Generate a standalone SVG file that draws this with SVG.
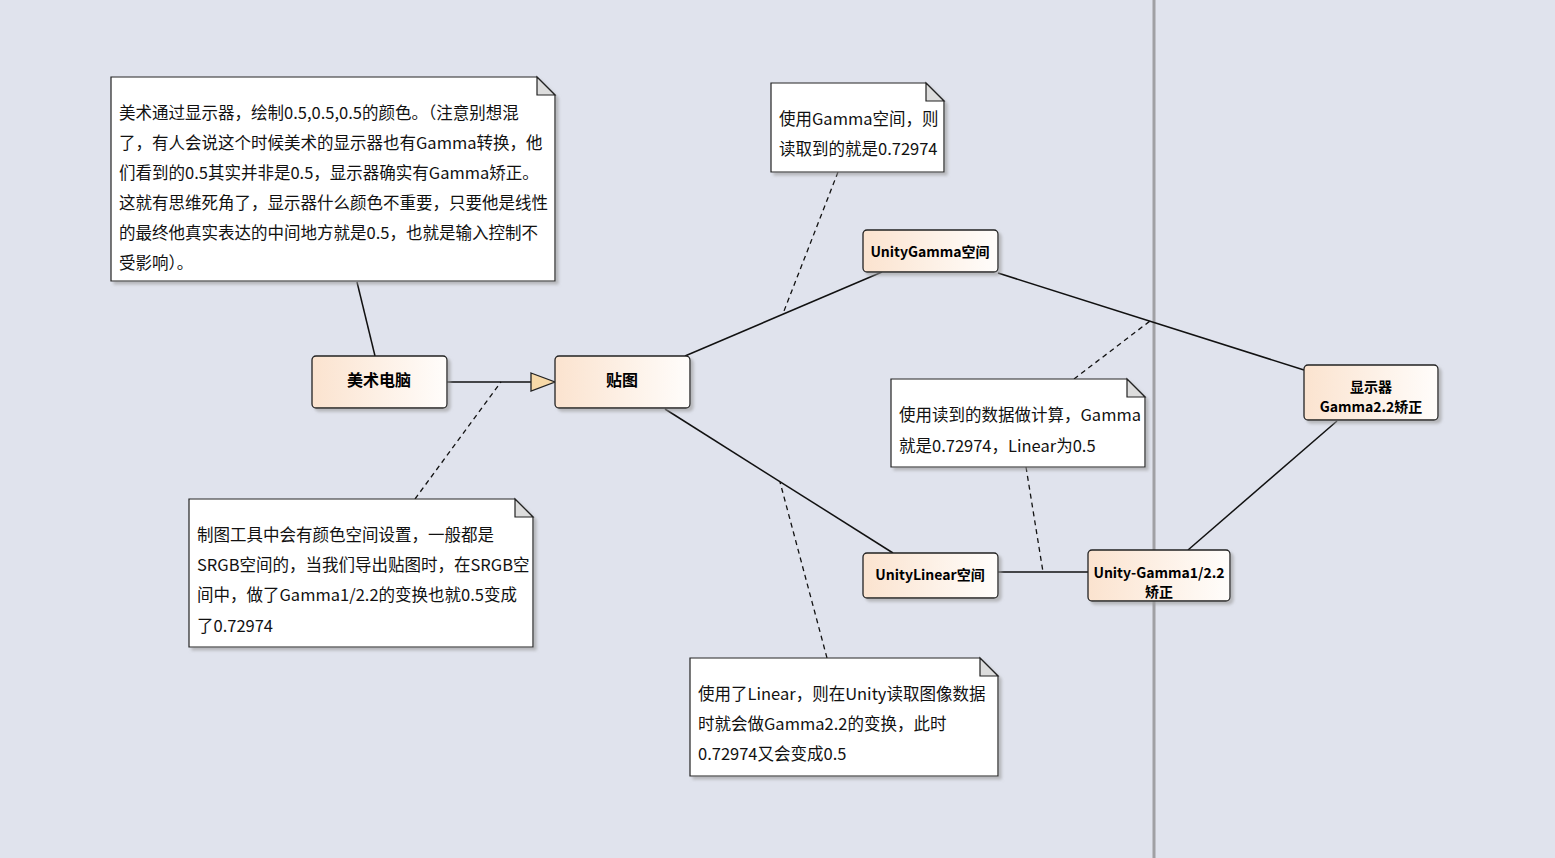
<svg xmlns="http://www.w3.org/2000/svg" width="1555" height="858" viewBox="0 0 1555 858">
<defs>
<linearGradient id="g" x1="0" y1="0" x2="1" y2="0"><stop offset="0" stop-color="#fbe3cf"/><stop offset="1" stop-color="#fffdfb"/></linearGradient>
<filter id="sh" x="-10%" y="-10%" width="130%" height="140%"><feDropShadow dx="3" dy="3" stdDeviation="1.5" flood-color="#999" flood-opacity="0.6"/></filter>
</defs>
<style>
.n{fill:url(#g);stroke:#222;stroke-width:1.3;filter:url(#sh)}
.nt{font-family:"Noto Sans CJK SC","Liberation Sans",sans-serif;font-size:16px;font-weight:bold;text-anchor:middle;fill:#000}
.s{font-size:14px}
.note{fill:#fff;stroke:#222;stroke-width:1.2;filter:url(#sh)}
.fold{fill:#ddd;stroke:#222;stroke-width:1.2}
.tx{font-family:"Noto Sans CJK SC","Liberation Sans",sans-serif;font-size:16.5px;fill:#111}
.l{stroke:#111;stroke-width:1.5;fill:none}
.d{stroke:#111;stroke-width:1.3;fill:none;stroke-dasharray:5,4}
</style>
<rect width="1555" height="858" fill="#e0e3ed"/>
<line x1="1154" y1="0" x2="1154" y2="858" stroke="#a0a0a4" stroke-width="3"/>
<g id="connectors">
<line class="l" x1="357" y1="282" x2="375" y2="356"/>
<line class="l" x1="447" y1="382" x2="531" y2="382"/>
<polygon points="531,373 555,382 531,391" fill="#f7d9a8" stroke="#222" stroke-width="1.3"/>
<line class="l" x1="685" y1="356" x2="882" y2="272"/>
<line class="l" x1="665" y1="409" x2="893" y2="553"/>
<line class="l" x1="998" y1="273" x2="1304" y2="370"/>
<line class="l" x1="998" y1="572" x2="1088" y2="572"/>
<line class="l" x1="1337" y1="421" x2="1188" y2="550"/>
<line class="d" x1="838" y1="172" x2="784" y2="311"/>
<line class="d" x1="415" y1="499" x2="501" y2="382"/>
<line class="d" x1="1074" y1="379" x2="1150" y2="321"/>
<line class="d" x1="1026" y1="467" x2="1043" y2="572"/>
<line class="d" x1="827" y1="658" x2="780" y2="482"/>
</g>
<g id="meishu"><rect class="n" x="312" y="356" width="135" height="52" rx="4"/><text class="nt" x="379" y="386">美术电脑</text></g>
<g id="tietu"><rect class="n" x="555" y="356" width="135" height="52" rx="4"/><text class="nt" x="622" y="386">贴图</text></g>
<g id="unitygamma"><rect class="n" x="863" y="230" width="135" height="42" rx="4"/><text class="nt s" x="930" y="257">UnityGamma空间</text></g>
<g id="xianshiqi"><rect class="n" x="1304" y="365" width="134" height="55" rx="4"/><text class="nt s" x="1371" y="392">显示器</text><text class="nt s" x="1371" y="412">Gamma2.2矫正</text></g>
<g id="unitylinear"><rect class="n" x="863" y="553" width="135" height="45" rx="4"/><text class="nt s" x="930" y="580">UnityLinear空间</text></g>
<g id="unitygammacorr"><rect class="n" x="1088" y="550" width="142" height="51" rx="4"/><text class="nt s" x="1159" y="578">Unity-Gamma1/2.2</text><text class="nt s" x="1159" y="597">矫正</text></g>
<g id="note1"><path class="note" d="M111,77 H537 L555,95 V281 H111 Z"/><path class="fold" d="M537,77 V95 H555 Z"/>
<text class="tx" x="119" y="119">美术通过显示器，绘制0.5,0.5,0.5的颜色。（注意别想混</text>
<text class="tx" x="119" y="149">了，有人会说这个时候美术的显示器也有Gamma转换，他</text>
<text class="tx" x="119" y="179">们看到的0.5其实并非是0.5，显示器确实有Gamma矫正。</text>
<text class="tx" x="119" y="209">这就有思维死角了，显示器什么颜色不重要，只要他是线性</text>
<text class="tx" x="119" y="239">的最终他真实表达的中间地方就是0.5，也就是输入控制不</text>
<text class="tx" x="119" y="269">受影响）。</text></g>
<g id="note2"><path class="note" d="M771,83 H926 L944,101 V172 H771 Z"/><path class="fold" d="M926,83 V101 H944 Z"/>
<text class="tx" x="779" y="125">使用Gamma空间，则</text><text class="tx" x="779" y="155">读取到的就是0.72974</text></g>
<g id="note3"><path class="note" d="M891,379 H1127 L1145,397 V467 H891 Z"/><path class="fold" d="M1127,379 V397 H1145 Z"/>
<text class="tx" x="899" y="421">使用读到的数据做计算，Gamma</text><text class="tx" x="899" y="452">就是0.72974，Linear为0.5</text></g>
<g id="note4"><path class="note" d="M189,499 H515 L533,517 V647 H189 Z"/><path class="fold" d="M515,499 V517 H533 Z"/>
<text class="tx" x="197" y="541">制图工具中会有颜色空间设置，一般都是</text>
<text class="tx" x="197" y="571">SRGB空间的，当我们导出贴图时，在SRGB空</text>
<text class="tx" x="197" y="601">间中，做了Gamma1/2.2的变换也就0.5变成</text>
<text class="tx" x="197" y="632">了0.72974</text></g>
<g id="note5"><path class="note" d="M690,658 H980 L998,676 V776 H690 Z"/><path class="fold" d="M980,658 V676 H998 Z"/>
<text class="tx" x="698" y="700">使用了Linear，则在Unity读取图像数据</text>
<text class="tx" x="698" y="730">时就会做Gamma2.2的变换，此时</text>
<text class="tx" x="698" y="760">0.72974又会变成0.5</text></g>
</svg>
